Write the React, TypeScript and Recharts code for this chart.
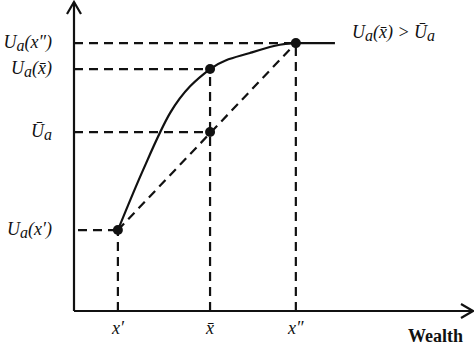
import React from 'react';
import { ComposedChart, Line, Scatter, XAxis, YAxis, ReferenceLine, LabelList } from 'recharts';

// wealth positions of x', x̄, x'' and their tick labels
const wealthTicks = [11, 34.1, 55.6];
const wealthLabels = ['x\u2032', 'x\u0304', 'x\u2033'];

// utility levels: U(x'), Ū, U(x̄), U(x'')
const utilityTicks = [26.2, 57.9, 78.3, 86.7];
const utilityBase = ['U', '\u016A', 'U', 'U'];
const utilityArg = ['(x\u2032)', '', '(x\u0304)', '(x\u2033)'];

// concave utility curve
const curveWealth = [11, 17.3, 24.1, 34.1, 44.1, 55.6, 65.4];
const curveUtility = [26.2, 45.6, 64.1, 78.3, 83.5, 86.7, 86.7];

const curveData = curveWealth.map((x, i) => ({ x, y: curveUtility[i] }));
const chordData = [
  { x: wealthTicks[0], y: utilityTicks[0] },
  { x: wealthTicks[2], y: utilityTicks[3] },
];
const dotData = [
  { x: wealthTicks[0], y: utilityTicks[0] },
  { x: wealthTicks[1], y: utilityTicks[2] },
  { x: wealthTicks[1], y: utilityTicks[1] },
  { x: wealthTicks[2], y: utilityTicks[3] },
];

const INK = '#111';
const DASH = '9 6';
const MATH_FONT = "'Liberation Serif', 'Times New Roman', serif";

// parts: plain text, or a subscript "a" after it
const MathText = ({ x, y, parts, anchor }: any) => (
  <text x={x} y={y} textAnchor={anchor} fill={INK} fontFamily={MATH_FONT} fontStyle="italic" fontSize={18}>
    {parts.map((p: string, i: number) => (
      <React.Fragment key={i}>
        <tspan dy={i === 0 ? 0 : -3}>{p}</tspan>
        <tspan dy={3} fontSize={16}>a</tspan>
      </React.Fragment>
    ))}
  </text>
);

const YTick = (props: any) => {
  const i = utilityTicks.indexOf(props.payload.value);
  const parts = utilityArg[i] ? [utilityBase[i]] : [utilityBase[i]];
  return (
    <text x={props.x} y={props.y + 5} textAnchor="end" fill={INK} fontFamily={MATH_FONT} fontStyle="italic" fontSize={18}>
      <tspan>{parts[0]}</tspan>
      <tspan dy={3} fontSize={16}>a</tspan>
      <tspan dy={-3}>{utilityArg[i]}</tspan>
    </text>
  );
};

const XTick = (props: any) => {
  const i = wealthTicks.indexOf(props.payload.value);
  return (
    <text x={props.x} y={props.y + 23} textAnchor="middle" fill={INK} fontFamily={MATH_FONT} fontStyle="italic" fontSize={18}>
      {wealthLabels[i]}
    </text>
  );
};

const arrowX = (p: any) => (
  <g stroke={INK} strokeWidth={2.2} fill="none">
    <line x1={p.x1} y1={p.y1} x2={p.x2} y2={p.y2} />
    <polyline points={`${p.x2 - 12},${p.y2 - 7} ${p.x2},${p.y2} ${p.x2 - 12},${p.y2 + 7}`} />
  </g>
);

const arrowY = (p: any) => (
  <g stroke={INK} strokeWidth={2.2} fill="none">
    <line x1={p.x1} y1={p.y1} x2={p.x2} y2={p.y2} />
    <polyline points={`${p.x2 - 7},${p.y2 + 12} ${p.x2},${p.y2} ${p.x2 + 7},${p.y2 + 12}`} />
  </g>
);

const dot = (p: any) => <circle cx={p.cx} cy={p.cy} r={5} fill={INK} />;

export default function App() {
  const last = curveData.length - 1;
  return (
    <div style={{ position: 'absolute', left: 0, top: 0, background: '#fff' }}>
      <ComposedChart width={474} height={346} margin={{ top: 2, right: 1, bottom: 0, left: 0 }}>
        <XAxis
          dataKey="x" type="number" domain={[0, 100]} ticks={wealthTicks} interval={0}
          axisLine={false} tickLine={false} tickSize={0} tickMargin={0} height={35}
          tick={<XTick />}
          label={{
            content: ({ viewBox }: any) => (
              <text x={viewBox.x + viewBox.width - 10} y={viewBox.y + viewBox.height - 4} textAnchor="end"
                fill={INK} fontFamily={MATH_FONT} fontWeight="bold" fontSize={18}>
                Wealth
              </text>
            ),
          }}
        />
        <YAxis
          dataKey="y" type="number" domain={[0, 100]} ticks={utilityTicks} interval={0}
          axisLine={false} tickLine={false} tickSize={0} tickMargin={22} width={74}
          tick={<YTick />}
        />

        {/* horizontal guides */}
        <ReferenceLine segment={[{ x: 1, y: utilityTicks[0] }, { x: wealthTicks[0], y: utilityTicks[0] }]} stroke={INK} strokeWidth={2.2} strokeDasharray={DASH} />
        <ReferenceLine segment={[{ x: 0, y: utilityTicks[1] }, { x: wealthTicks[1], y: utilityTicks[1] }]} stroke={INK} strokeWidth={2.2} strokeDasharray={DASH} />
        <ReferenceLine segment={[{ x: 0, y: utilityTicks[2] }, { x: wealthTicks[1], y: utilityTicks[2] }]} stroke={INK} strokeWidth={2.2} strokeDasharray={DASH} />
        <ReferenceLine segment={[{ x: 0, y: utilityTicks[3] }, { x: wealthTicks[2], y: utilityTicks[3] }]} stroke={INK} strokeWidth={2.2} strokeDasharray={DASH} />
        {/* vertical guides */}
        <ReferenceLine segment={[{ x: wealthTicks[0], y: 0 }, { x: wealthTicks[0], y: utilityTicks[0] }]} stroke={INK} strokeWidth={2.2} strokeDasharray={DASH} />
        <ReferenceLine segment={[{ x: wealthTicks[1], y: 0 }, { x: wealthTicks[1], y: utilityTicks[2] }]} stroke={INK} strokeWidth={2.2} strokeDasharray={DASH} />
        <ReferenceLine segment={[{ x: wealthTicks[2], y: 0 }, { x: wealthTicks[2], y: utilityTicks[3] }]} stroke={INK} strokeWidth={2.2} strokeDasharray={DASH} />

        {/* axes with arrow heads */}
        <ReferenceLine segment={[{ x: 0, y: 0 }, { x: 100, y: 0 }]} shape={arrowX} />
        <ReferenceLine segment={[{ x: 0, y: 0 }, { x: 0, y: 100 }]} shape={arrowY} />

        <Line data={chordData} dataKey="y" type="linear" stroke={INK} strokeWidth={2.2} strokeDasharray={DASH} dot={false} isAnimationActive={false} />
        <Line data={curveData} dataKey="y" type="monotone" stroke={INK} strokeWidth={2.2} dot={false} isAnimationActive={false}>
          <LabelList
            dataKey="y"
            content={(p: any) =>
              p.index === last ? <MathText x={p.x + 17} y={p.y - 5} parts={['U', '(x\u0304) > \u016A']} anchor="start" /> : null
            }
          />
        </Line>
        <Scatter data={dotData} dataKey="y" shape={dot} isAnimationActive={false} />
      </ComposedChart>
    </div>
  );
}
